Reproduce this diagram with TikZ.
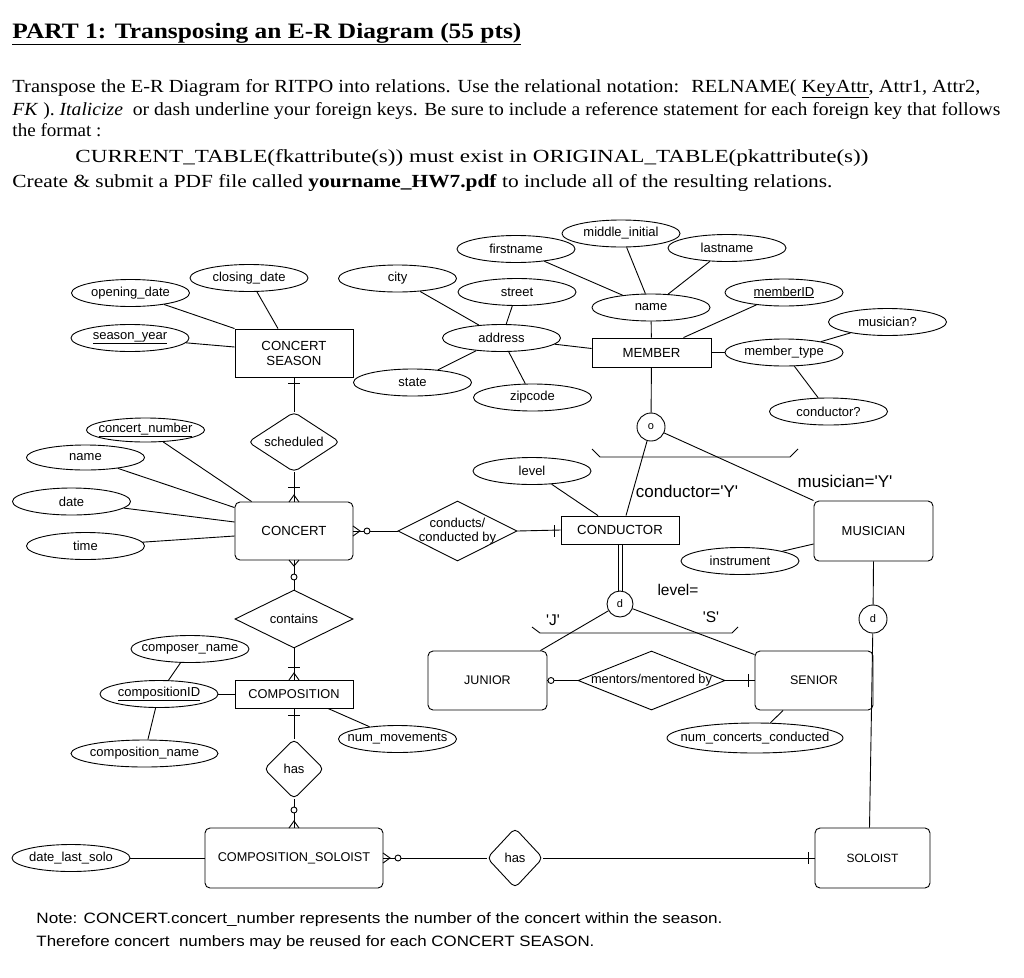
\documentclass[tikz,border=0pt]{standalone}
\usepackage{fontspec}
\setmainfont{Liberation Serif}
\newfontfamily\dsans{Liberation Sans}
\usepackage{graphicx}
\usetikzlibrary{shapes.geometric,calc}
\newcommand{\zb}[1]{\makebox[0pt]{#1}}
\tikzset{
 attr/.style={ellipse, draw, line width=0.9pt, inner sep=0pt, minimum width=118pt, minimum height=27pt, font=\dsans\fontsize{13}{15}\selectfont},
 ent/.style={rectangle, draw, line width=0.9pt, inner sep=0pt, minimum width=118pt, font=\dsans\fontsize{13.2}{15}\selectfont, align=center},
 rent/.style={ent, rounded corners=5pt},
 rel/.style={diamond, draw, line width=0.9pt, inner sep=0pt, font=\dsans\fontsize{13}{14}\selectfont, align=center},
 ccirc/.style={circle, draw, line width=0.9pt, inner sep=0pt, font=\dsans\fontsize{11}{12}\selectfont},
 lbl/.style={inner sep=0pt, font=\dsans\fontsize{17}{19}\selectfont},
 hdr/.style={inner sep=0pt, anchor=base west, font=\fontsize{18.5}{22}\selectfont},
 note/.style={inner sep=0pt, anchor=base west, font=\dsans\fontsize{15}{18}\selectfont},
}
\begin{document}
\begin{tikzpicture}[x=1pt,y=-1pt,line width=0.9pt]
\useasboundingbox (0,0) rectangle (1024,977);
\fill[white] (0,0) rectangle (1024,977);
% header
\node[hdr, font=\fontsize{22}{26}\selectfont\bfseries] (t0) at (12,38) {\resizebox{509pt}{\height}{\underline{PART 1: Transposing an E-R Diagram (55 pts)}}};
\node[hdr] (t1) at (12,92) {\resizebox{968pt}{\height}{Transpose the E-R Diagram for RITPO into relations. Use the relational notation:~ RELNAME( \underline{KeyAttr}, Attr1, Attr2,}};
\node[hdr] (t2) at (12,115) {\resizebox{988pt}{\height}{\textit{FK} ). \textit{Italicize}~ or dash underline your foreign keys. Be sure to include a reference statement for each foreign key that follows}};
\node[hdr] (t3) at (12,136) {\resizebox{89pt}{\height}{the format :}};
\node[hdr] (t4) at (75,162) {\resizebox{793pt}{\height}{CURRENT\_TABLE(fkattribute(s)) must exist in ORIGINAL\_TABLE(pkattribute(s))}};
\node[hdr] (t5) at (12,187) {\resizebox{820pt}{\height}{Create \& submit a PDF file called \textbf{yourname\_HW7.pdf} to include all of the resulting relations.}};
% entities
\node[ent, minimum height=48pt] (cs) at (294,353) {CONCERT\\SEASON};
\node[ent, minimum width=119pt, minimum height=29pt] (mem) at (651.5,352.5) {MEMBER};
\node[rent, minimum height=58pt] (co) at (294,531) {CONCERT};
\node[ent, minimum height=28pt] (cond) at (620,530) {CONDUCTOR};
\node[rent, minimum width=119pt, minimum height=60pt, font=\dsans\fontsize{13}{14}\selectfont] (mus) at (873.5,531) {MUSICIAN};
\node[ent, minimum height=28pt, font=\dsans\fontsize{12.8}{14}\selectfont] (comp) at (294,694) {COMPOSITION};
\node[rent, minimum width=119pt, minimum height=59pt, font=\dsans\fontsize{12.5}{14}\selectfont] (jun) at (487.5,680.5) {JUNIOR};
\node[rent, minimum height=59pt, font=\dsans\fontsize{12.5}{14}\selectfont] (sen) at (814,680.5) {SENIOR};
\node[rent, minimum width=178pt, minimum height=60pt, font=\dsans\fontsize{12.7}{14}\selectfont] (csol) at (294,858) {COMPOSITION\_SOLOIST};
\node[rent, minimum width=115pt, minimum height=60pt, font=\dsans\fontsize{12}{14}\selectfont] (sol) at (872.5,858) {SOLOIST};
% relationships
\node[rel, rounded corners=5pt, minimum width=92pt, minimum height=60pt] (sch) at (294,442) {\zb{scheduled}};
\node[rel, minimum width=119pt, minimum height=60pt] (cdi) at (457.5,531) {\zb{conducts/}\\\zb{conducted by}};
\node[rel, minimum width=118pt, minimum height=58pt] (con) at (294,619) {\zb{contains}};
\node[rel, rounded corners=5pt, minimum width=60pt, minimum height=60pt] (has) at (294,769) {\zb{has}};
\node[rel, minimum width=147pt, minimum height=59pt, font=\dsans\fontsize{12.8}{13}\selectfont] (mdi) at (651.5,680.5) {\zb{mentors/mentored by}};
\node[rel, rounded corners=5pt, minimum width=56pt, minimum height=60pt] (hs2) at (515,858) {\zb{has}};
% attributes
\node[attr] (od) at (130.5,293) {\zb{opening\_date}};
\node[attr] (cd) at (249,278) {\zb{closing\_date}};
\node[attr] (sy) at (130,338) {\zb{\underline{season\_year}}};
\node[attr] (city) at (397.5,278.5) {\zb{city}};
\node[attr] (fn) at (516,249) {\zb{firstname}};
\node[attr] (mi) at (621,233.5) {\zb{middle\_initial}};
\node[attr] (ln) at (727,248) {\zb{lastname}};
\node[attr] (st) at (517,292) {\zb{street}};
\node[attr] (mn) at (651,307.5) {\zb{name}};
\node[attr] (ad) at (501.5,338) {\zb{address}};
\node[attr] (sta) at (412.5,382.5) {\zb{state}};
\node[attr] (zip) at (532.5,397.5) {\zb{zipcode}};
\node[attr] (mid) at (784,292.5) {\zb{\underline{memberID}}};
\node[attr] (musq) at (887.5,322) {\zb{musician?}};
\node[attr] (mt) at (784,352.5) {\zb{member\_type}};
\node[attr] (cq) at (828.5,411.5) {\zb{conductor?}};
\node[attr, minimum height=24pt] (cn) at (145.5,430) {\zb{\underline{concert\_number}}};
\node[attr, minimum height=25pt] (nm2) at (85.5,457.5) {\zb{name}};
\node[attr] (dt) at (71.5,501.5) {\zb{date}};
\node[attr] (tm) at (85.5,546) {\zb{time}};
\node[attr] (lvl) at (532,471) {\zb{level}};
\node[attr] (ins) at (740,561) {\zb{instrument}};
\node[attr] (cpn) at (190,649) {\zb{composer\_name}};
\node[attr] (cid) at (159,694) {\zb{\underline{compositionID}}};
\node[attr, minimum width=147pt] (cpname) at (144.5,753.5) {\zb{composition\_name}};
\node[attr] (nmv) at (397.5,739) {\zb{num\_movements}};
\node[attr, minimum width=176pt, minimum height=30pt] (ncc) at (755,738) {\zb{num\_concerts\_conducted}};
\node[attr] (dls) at (71,858) {\zb{date\_last\_solo}};
% specialization circles
\node[ccirc, minimum size=28pt] (oc) at (651,427) {o};
\node[ccirc, minimum size=26pt] (d1) at (620,604) {d};
\node[ccirc, minimum size=28pt] (d2) at (873,619) {d};
% labels
\node[lbl] (lc) at (687,491) {conductor=\textquotesingle Y\textquotesingle};
\node[lbl] (lm) at (845,481) {musician=\textquotesingle Y\textquotesingle};
\node[lbl, font=\dsans\fontsize{15.5}{18}\selectfont] (ll) at (678,590) {level=};
\node[lbl, font=\dsans\fontsize{15.5}{18}\selectfont] (lj) at (553,620) {\textquotesingle J\textquotesingle};
\node[lbl, font=\dsans\fontsize{15.5}{18}\selectfont] (ls) at (711,617) {\textquotesingle S\textquotesingle};
% subclass bars
\draw (592,449) -- (600,457) -- (790,457) -- (798,449);
\draw (532,627) -- (540,633) -- (732,633) -- (738,627);
% attribute connectors
\draw (od) -- (cs.north west);
\draw (cd) -- ([xshift=-16pt]cs.north);
\draw (sy) -- ([yshift=6pt]cs.west);
\draw (city) -- (ad);
\draw (st) -- (ad);
\draw (sta) -- (ad);
\draw (zip) -- (ad);
\draw (ad) -- ([yshift=4pt]mem.west);
\draw (fn) -- (mn);
\draw (mi) -- (mn);
\draw (ln) -- (mn);
\draw (mn) -- (mem);
\draw (mid) -- ([xshift=32pt]mem.north);
\draw (mem.east) -- (mt);
\draw (mt) -- (musq);
\draw (mt) -- (cq);
\draw (cn) -- ([xshift=17pt]co.north west);
\draw (nm2) -- ([yshift=-6pt]co.north west);
\draw (dt) -- ([yshift=9pt]co.west);
\draw (tm) -- ([yshift=-5pt]co.west);
\draw (lvl) -- ([xshift=-22pt]cond.north);
\draw (ins) -- ([yshift=-13pt]mus.west);
\draw ([xshift=-31pt]sen.south) -- (ncc);
\draw (cpn) -- (cid);
\draw (cpname) -- (cid);
\draw (cid) -- (comp);
\draw ([xshift=34pt]comp.south) -- (nmv);
\draw (dls) -- (csol);
% specialization connectors
\draw (mem) -- (oc);
\draw (oc) -- ([xshift=6pt]cond.north);
\draw (oc) -- (mus.north west);
\draw ([xshift=-2pt]cond.south) -- ([xshift=-2pt]d1.north);
\draw ([xshift=2pt]cond.south) -- ([xshift=2pt]d1.north);
\draw (d1) -- ([xshift=-7pt]jun.north east);
\draw (d1) -- ([yshift=-4pt]sen.north west);
\draw (mus.south) -- (d2);
\draw (d2) -- ([xshift=-3pt]sol.north);
% relationship connectors
\draw (cs.south) -- (sch.north);
\draw (288,383) -- (300,383);
\draw (sch.south) -- (co.north);
\draw (288,487) -- (300,487);
\draw (289,502) -- (294,495) -- (299,502);
\draw (co.east) -- (cdi.west);
\draw (353,526) -- (360,531) -- (353,536);
\draw[fill=white] (367,531) circle (3pt);
\draw (cdi.east) -- (cond.west);
\draw (554,525) -- (554,537);
\draw (co.south) -- (con.north);
\draw (289,560) -- (294,566) -- (299,560);
\draw[fill=white] (294,577) circle (3pt);
\draw (con.south) -- (comp.north);
\draw (288,667) -- (300,667);
\draw (289,680) -- (294,673) -- (299,680);
\draw (comp.south) -- (has.north);
\draw (288,715) -- (300,715);
\draw (has.south) -- (csol.north);
\draw[fill=white] (294,810) circle (3pt);
\draw (289,828) -- (294,821) -- (299,828);
\draw (jun.east) -- (mdi.west);
\draw[fill=white] (551,680.5) circle (3pt);
\draw (mdi.east) -- (sen.west);
\draw (748,674) -- (748,687);
\draw (csol.east) -- (hs2.west);
\draw (383,853) -- (390,858) -- (383,863);
\draw[fill=white] (398,858) circle (3pt);
\draw (hs2.east) -- (sol.west);
\draw (808,852) -- (808,864);
% note
\node[note] (n1) at (36,923) {\resizebox{686pt}{\height}{Note: CONCERT.concert\_number represents the number of the concert within the season.}};
\node[note] (n2) at (36,946) {\resizebox{558pt}{\height}{Therefore concert~ numbers may be reused for each CONCERT SEASON.}};
\end{tikzpicture}
\end{document}
